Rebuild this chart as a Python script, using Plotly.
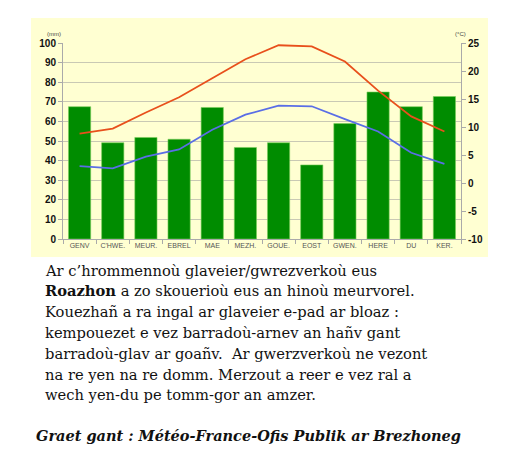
import plotly.graph_objects as go

# Roazhon : glaveier (mm) ha gwrezverkoù (°C)
mizioù = ["GENV", "C'HWE.", "MEUR.", "EBREL", "MAE", "MEZH.",
          "GOUE.", "EOST", "GWEN.", "HERE", "DU", "KER."]
glav = [67.5, 49.1, 51.8, 50.9, 67.1, 46.7, 49.1, 37.8, 58.9, 75.0, 67.5, 72.7]
gwrez_uhel = [8.8, 9.7, 12.6, 15.3, 18.7, 22.1, 24.6, 24.4, 21.7, 16.5, 11.9, 9.2]
gwrez_izel = [3.0, 2.6, 4.7, 6.0, 9.5, 12.2, 13.8, 13.7, 11.4, 9.2, 5.4, 3.4]
gwrez_ticks = [-10, -5, 0, 5, 10, 15, 20, 25]

testenn = [
    "Ar c’hrommennoù glaveier/gwrezverkoù eus",
    "<b>Roazhon</b> a zo skouerioù eus an hinoù meurvorel.",
    "Kouezhañ a ra ingal ar glaveier e-pad ar bloaz :",
    "kempouezet e vez barradoù-arnev an hañv gant",
    "barradoù-glav ar goañv.  Ar gwerzverkoù ne vezont",
    "na re yen na re domm. Merzout a reer e vez ral a",
    "wech yen-du pe tomm-gor an amzer.",
]
mammenn = "<b><i>Graet gant : Météo-France-Ofis Publik ar Brezhoneg</i></b>"

# marz ar bajenn (body) : 8 piksel
D = 8
W, H = 518 - D, 470 - D
L, R, T, B = 63 - D, 461 - D, 43 - D, 239 - D


def py(p):
    # piksel er skeudenn -> paper y
    return (B - (p - D)) / (B - T)


def px(p):
    return ((p - D) - L) / (R - L)


fig = go.Figure()

fig.add_trace(go.Bar(
    x=mizioù, y=glav,
    marker=dict(color="#008c00", line=dict(color="#7ccf5a", width=0.6)),
    hoverinfo="y", showlegend=False
))
fig.add_trace(go.Scatter(
    x=mizioù, y=gwrez_uhel, yaxis="y2", mode="lines",
    line=dict(color="#e8501c", width=1.8), showlegend=False
))
fig.add_trace(go.Scatter(
    x=mizioù, y=gwrez_izel, yaxis="y2", mode="lines",
    line=dict(color="#5a6ee6", width=1.8), showlegend=False
))

# foñs melen
fig.add_shape(type="rect", xref="paper", yref="paper",
              x0=px(31), x1=px(488), y0=py(257), y1=py(18),
              fillcolor="#ffffd2", line=dict(width=0), layer="below")

fig.add_annotation(text="(mm)", xref="paper", yref="paper", x=px(46), y=py(30),
                   showarrow=False, borderpad=0,
                   font=dict(size=6, color="#444", family="Liberation Sans"))
fig.add_annotation(text="(°C)", xref="paper", yref="paper", x=px(467), y=py(30),
                   showarrow=False, borderpad=0,
                   font=dict(size=6, color="#444", family="Liberation Sans"))

for i, linenn in enumerate(testenn):
    fig.add_annotation(text=linenn, xref="paper", yref="paper",
                       x=px(43), y=py(270 + i * 20.8), xanchor="left", yanchor="middle",
                       showarrow=False, font=dict(size=14.7, color="#111", family="DejaVu Serif"))
fig.add_annotation(text=mammenn, xref="paper", yref="paper",
                   x=px(34), y=py(436), xanchor="left", yanchor="middle",
                   showarrow=False, font=dict(size=14.5, color="#111", family="DejaVu Serif"))

ticks_y = dict(size=10, color="#111", family="Liberation Sans", weight="bold")

fig.update_layout(
    width=W, height=H,
    margin=dict(l=L, r=W - R, t=T, b=H - B, pad=0),
    paper_bgcolor="white", plot_bgcolor="rgba(0,0,0,0)",
    bargap=0.33,
    xaxis=dict(showgrid=False, ticks="outside", tickson="boundaries", ticklen=4,
               tickcolor="#aaa", showline=True, linecolor="#aaa", tickangle=0,
               tickfont=dict(size=7, color="#555", family="Liberation Sans")),
    yaxis=dict(range=[0, 100], dtick=10, showgrid=True, gridcolor="#c9c9b4",
               ticks="outside", ticklen=4, tickcolor="#aaa", showline=True,
               linecolor="#aaa", zeroline=False, tickfont=ticks_y),
    yaxis2=dict(range=[-10, 25], overlaying="y", side="right",
                tickmode="array", tickvals=gwrez_ticks,
                ticktext=[str(v) for v in gwrez_ticks],
                showgrid=False, zeroline=False, ticks="outside", ticklen=4,
                tickcolor="#aaa", showline=True, linecolor="#aaa", tickfont=ticks_y),
)

fig.write_html("out.html")
